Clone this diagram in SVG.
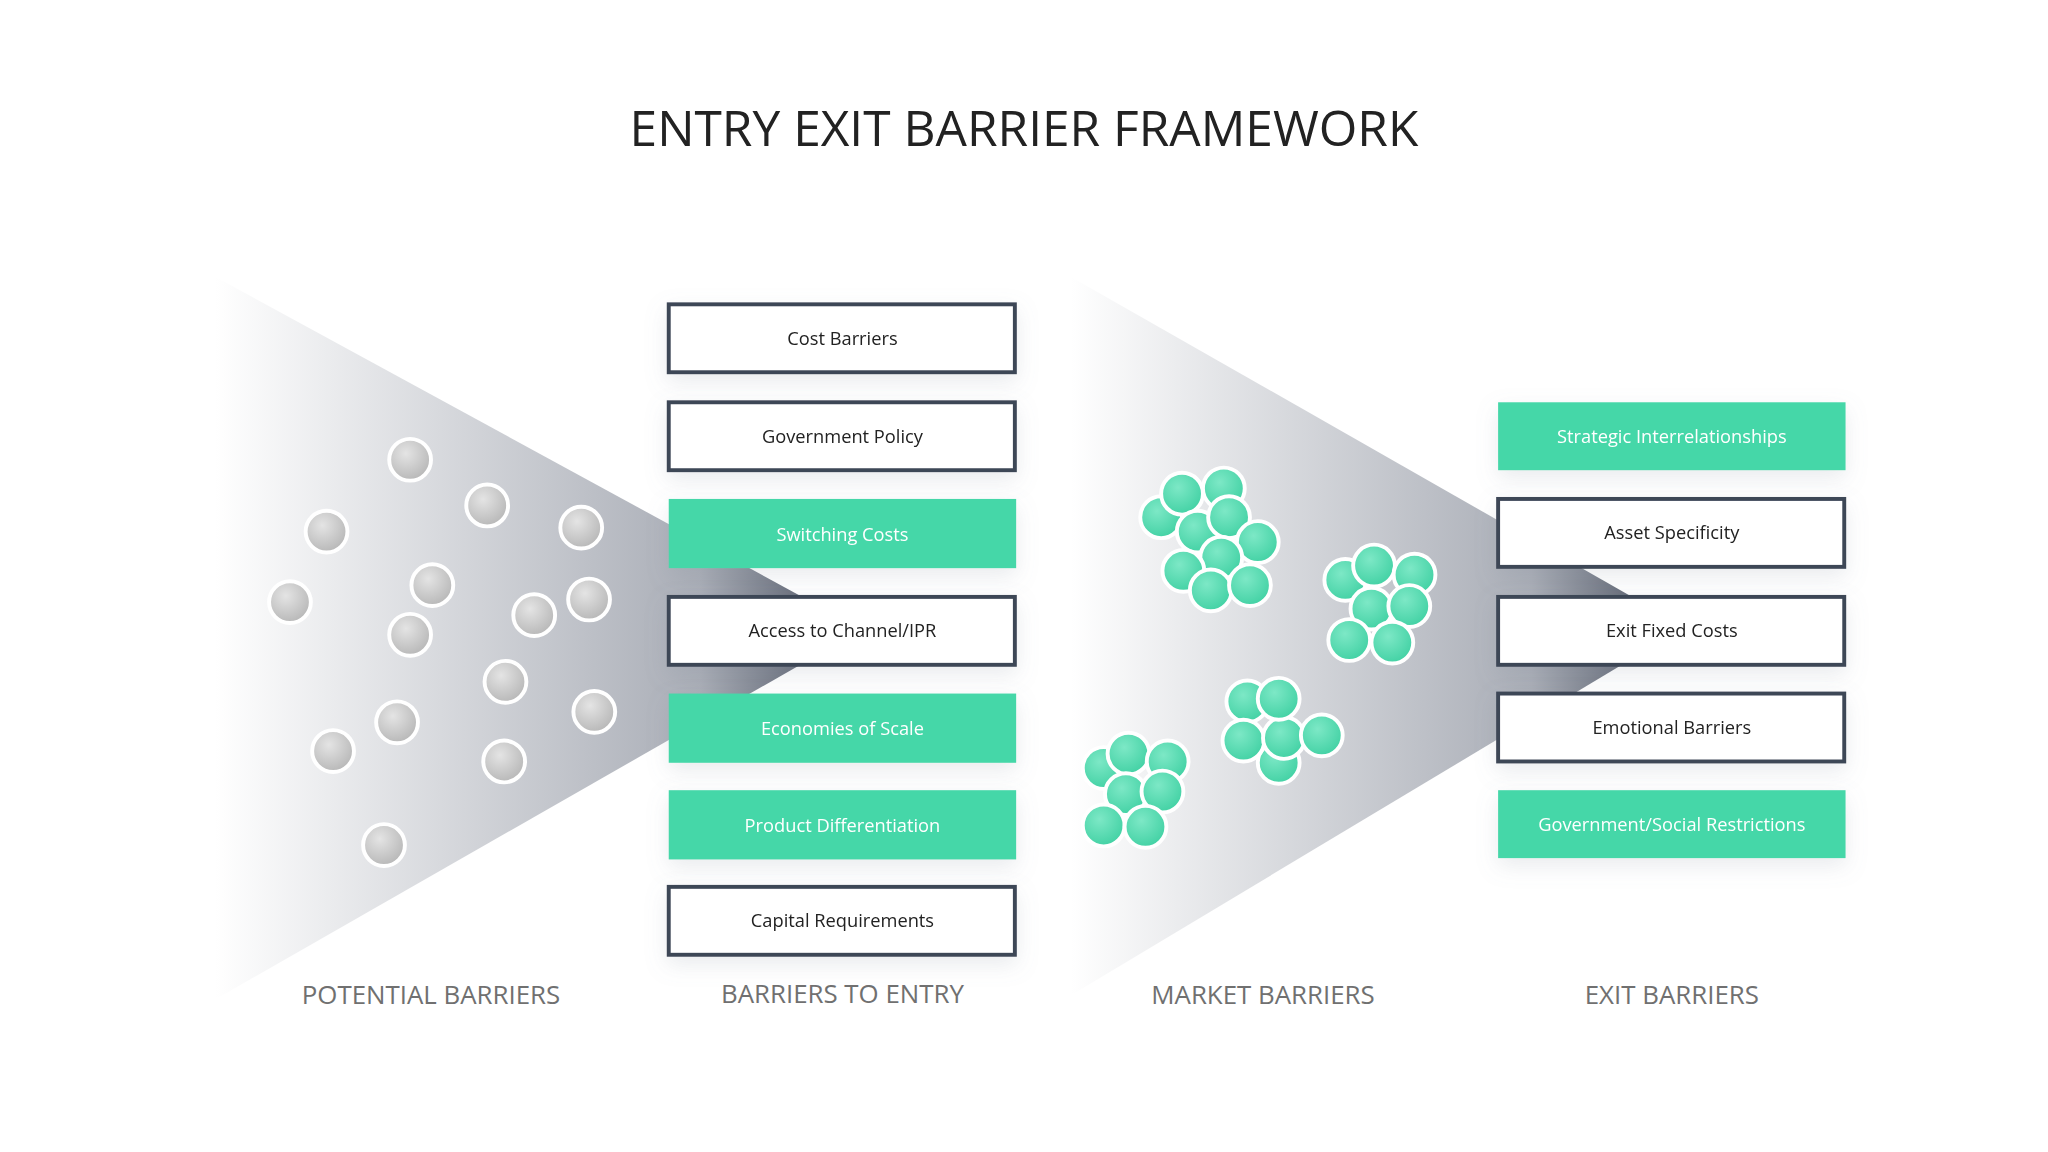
<svg xmlns="http://www.w3.org/2000/svg" width="2048" height="1152" viewBox="0 0 2048 1152">
<defs>
<linearGradient id="fan" x1="0" y1="0" x2="1" y2="0">
<stop offset="0" stop-color="#ffffff"/><stop offset="0.75" stop-color="#a9adb6"/><stop offset="1" stop-color="#3f4656"/>
</linearGradient>
<radialGradient id="gball" cx="0.4" cy="0.35" r="0.7">
<stop offset="0" stop-color="#e4e4e4"/><stop offset="1" stop-color="#b5b5b5"/>
</radialGradient>
<radialGradient id="tball" cx="0.4" cy="0.35" r="0.7">
<stop offset="0" stop-color="#7de8c6"/><stop offset="1" stop-color="#3fd0a2"/>
</radialGradient>
<filter id="sh" x="-20%" y="-40%" width="140%" height="200%">
<feDropShadow dx="0" dy="6" stdDeviation="8" flood-color="#8890a0" flood-opacity="0.18"/>
</filter>
<style>
.w{fill:#fff;stroke:#3d4656;stroke-width:3}
.g{fill:#44d7a8}
.t{font-family:"Open Sans","Liberation Sans",sans-serif;font-size:14px;text-anchor:middle;fill:#222}
.tw{fill:#fff}
.lab{font-family:"Open Sans","Liberation Sans",sans-serif;font-size:19.8px;text-anchor:middle;fill:#707070}
.gb{fill:url(#gball);stroke:#fff;stroke-width:3}
.tb{fill:url(#tball);stroke:#fff;stroke-width:3}
</style>
</defs>
<rect width="2048" height="1152" fill="#fff"/>
<g transform="scale(1.30612)">
<text x="784" y="112" font-family="'Open Sans','Liberation Sans',sans-serif" font-size="38" font-weight="500" text-anchor="middle" fill="#222">ENTRY EXIT BARRIER FRAMEWORK</text>
<g id="fans">
<polygon points="165,212 660,482 165,765" fill="url(#fan)"/>
<polygon points="820,212 1290,480 820,762" fill="url(#fan)"/>
</g>
<g id="potential">
<circle class="gb" cx="314" cy="352" r="16"/><circle class="gb" cx="250" cy="407" r="16"/><circle class="gb" cx="373" cy="387" r="16"/><circle class="gb" cx="445" cy="404" r="16"/><circle class="gb" cx="331" cy="448" r="16"/><circle class="gb" cx="222" cy="461" r="16"/><circle class="gb" cx="314" cy="486" r="16"/><circle class="gb" cx="409" cy="471" r="16"/><circle class="gb" cx="451" cy="459" r="16"/><circle class="gb" cx="387" cy="522" r="16"/><circle class="gb" cx="304" cy="553" r="16"/><circle class="gb" cx="455" cy="545" r="16"/><circle class="gb" cx="255" cy="575" r="16"/><circle class="gb" cx="386" cy="583" r="16"/><circle class="gb" cx="294" cy="647" r="16"/>
</g>
<g id="market">
<circle class="tb" cx="889" cy="396" r="16"/><circle class="tb" cx="905" cy="378" r="16"/><circle class="tb" cx="937" cy="374" r="16"/><circle class="tb" cx="917" cy="407" r="16"/><circle class="tb" cx="941" cy="396" r="16"/><circle class="tb" cx="963" cy="415" r="16"/><circle class="tb" cx="935" cy="427" r="16"/><circle class="tb" cx="906" cy="437" r="16"/><circle class="tb" cx="927" cy="452" r="16"/><circle class="tb" cx="957" cy="448" r="16"/>
<circle class="tb" cx="1030" cy="444" r="16"/><circle class="tb" cx="1052" cy="433" r="16"/><circle class="tb" cx="1083" cy="440" r="16"/><circle class="tb" cx="1050" cy="466" r="16"/><circle class="tb" cx="1079" cy="464" r="16"/><circle class="tb" cx="1033" cy="490" r="16"/><circle class="tb" cx="1066" cy="492" r="16"/>
<circle class="tb" cx="955" cy="537" r="16"/><circle class="tb" cx="979" cy="584" r="16"/><circle class="tb" cx="952" cy="567" r="16"/><circle class="tb" cx="983" cy="565" r="16"/><circle class="tb" cx="1012" cy="563" r="16"/><circle class="tb" cx="979" cy="535" r="16"/>
<circle class="tb" cx="845" cy="588" r="16"/><circle class="tb" cx="864" cy="577" r="16"/><circle class="tb" cx="894" cy="583" r="16"/><circle class="tb" cx="862" cy="608" r="16"/><circle class="tb" cx="890" cy="606" r="16"/><circle class="tb" cx="845" cy="632" r="16"/><circle class="tb" cx="877" cy="633" r="16"/>
</g>
<g id="e1" filter="url(#sh)"><rect class="w" x="512" y="233" width="265" height="52"/><text class="t" x="645" y="264">Cost Barriers</text></g>
<g id="e2" filter="url(#sh)"><rect class="w" x="512" y="308" width="265" height="52"/><text class="t" x="645" y="339">Government Policy</text></g>
<g id="e3" filter="url(#sh)"><rect class="g" x="512" y="382" width="266" height="53"/><text class="t tw" x="645" y="414">Switching Costs</text></g>
<g id="e4" filter="url(#sh)"><rect class="w" x="512" y="457" width="265" height="52"/><text class="t" x="645" y="488">Access to Channel/IPR</text></g>
<g id="e5" filter="url(#sh)"><rect class="g" x="512" y="531" width="266" height="53"/><text class="t tw" x="645" y="563">Economies of Scale</text></g>
<g id="e6" filter="url(#sh)"><rect class="g" x="512" y="605" width="266" height="53"/><text class="t tw" x="645" y="637">Product Differentiation</text></g>
<g id="e7" filter="url(#sh)"><rect class="w" x="512" y="679" width="265" height="52"/><text class="t" x="645" y="710">Capital Requirements</text></g>
<g id="x1" filter="url(#sh)"><rect class="g" x="1147" y="308" width="266" height="52"/><text class="t tw" x="1280" y="339">Strategic Interrelationships</text></g>
<g id="x2" filter="url(#sh)"><rect class="w" x="1147" y="382" width="265" height="52"/><text class="t" x="1280" y="413">Asset Specificity</text></g>
<g id="x3" filter="url(#sh)"><rect class="w" x="1147" y="457" width="265" height="52"/><text class="t" x="1280" y="488">Exit Fixed Costs</text></g>
<g id="x4" filter="url(#sh)"><rect class="w" x="1147" y="531" width="265" height="52"/><text class="t" x="1280" y="562">Emotional Barriers</text></g>
<g id="x5" filter="url(#sh)"><rect class="g" x="1147" y="605" width="266" height="52"/><text class="t tw" x="1280" y="636">Government/Social Restrictions</text></g>
<g id="labels">
<text class="lab" x="330" y="769">POTENTIAL BARRIERS</text>
<text class="lab" x="645" y="768">BARRIERS TO ENTRY</text>
<text class="lab" x="967" y="769">MARKET BARRIERS</text>
<text class="lab" x="1280" y="769">EXIT BARRIERS</text>
</g>
</g>
</svg>
